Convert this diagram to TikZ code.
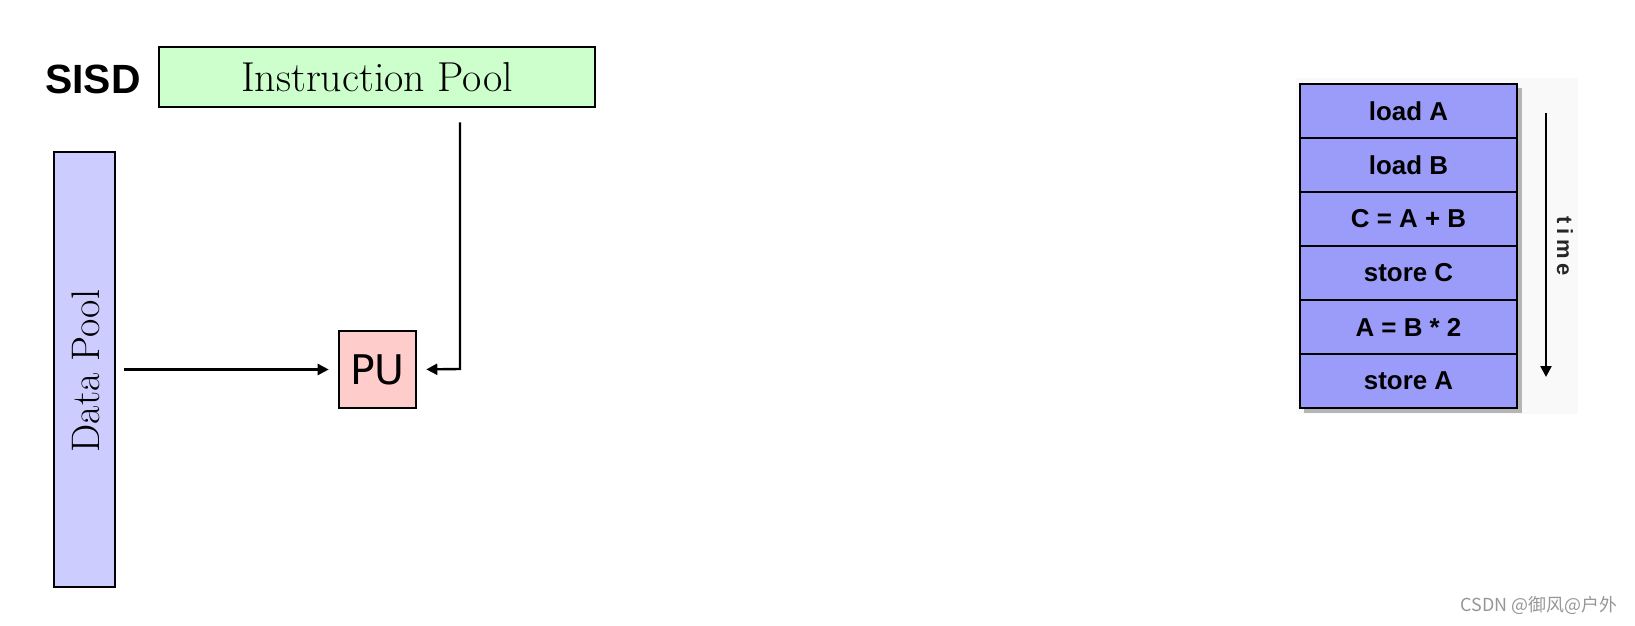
\documentclass[tikz,border=0pt]{standalone}
\usepackage{fontspec}
\usetikzlibrary{arrows.meta,shadows}
\newfontfamily\arialfont{Liberation Sans}
\newfontfamily\dejavufont{DejaVu Sans}
\newfontfamily\cjkfont{Noto Sans CJK SC}
\definecolor{ipgreen}{RGB}{204,255,204}
\definecolor{dpblue}{RGB}{204,204,255}
\definecolor{pupink}{RGB}{255,204,204}
\definecolor{stackblue}{RGB}{155,155,250}
\definecolor{wmgray}{RGB}{150,150,150}
\definecolor{bgfaint}{RGB}{249,249,249}
\tikzset{
  poolbox/.style={draw=black, line width=2.6bp, inner sep=0pt},
  arr/.style={line width=2.4bp, -{Triangle[length=11bp,width=11bp]}},
  stackrow/.style={draw=black, line width=2.8bp, fill=stackblue, minimum width=217bp, minimum height=54bp, inner sep=0pt,
    font=\arialfont\bfseries\fontsize{26}{28}\selectfont},
}
\begin{document}
\begin{tikzpicture}[x=1bp,y=-1bp]
\useasboundingbox (0,0) rectangle (1635,626);
% title
\node (sisd) at (93,79) {\arialfont\bfseries\fontsize{41}{44}\selectfont SISD};
% instruction pool
\node[poolbox, fill=ipgreen, minimum width=436bp, minimum height=60bp] (ip) at (377,77)
  {\fontsize{42}{44}\selectfont Instruction Pool};
% data pool
\node[poolbox, fill=dpblue, minimum width=61bp, minimum height=435bp] (dp) at (84.5,369.5) {};
\node[rotate=90] (dptext) at (86,371) {\fontsize{40}{42}\selectfont Data Pool};
% PU
\node[poolbox, fill=pupink, minimum width=77bp, minimum height=77bp] (pu) at (377.5,369.5)
  {\dejavufont\fontsize{41}{44}\selectfont PU};
% connectors
\coordinate (bend) at (460,369);
\draw[arr, shorten <=8bp, shorten >=9bp] (dp.east |- pu.west) -- (pu.west);
\draw[arr, shorten <=14bp, shorten >=9bp] (ip.south -| bend) -- (bend) -- (pu.east);
% instruction stack
\fill[bgfaint] (1296,78) rectangle (1578,414);
\fill[black!55, opacity=0.5] (1304,88) rectangle (1522,413);
\node[stackrow] (r1) at (1408.5,111) {load A};
\node[stackrow] (r2) at (1408.5,165) {load B};
\node[stackrow] (r3) at (1408.5,219) {C = A + B};
\node[stackrow] (r4) at (1408.5,273) {store C};
\node[stackrow] (r5) at (1408.5,327) {A = B * 2};
\node[stackrow] (r6) at (1408.5,381) {store A};
% time arrow
\coordinate (ta) at (1546,113);
\coordinate (tb) at (1546,377);
\draw[arr] (ta) -- (tb);
\node[rotate=-90, text=black!85] (time) at (1565,246)
  {\arialfont\bfseries\fontsize{22}{24}\selectfont t\kern4.5bp i\kern4.5bp m\kern4.5bp e};
% watermark
\node[text=wmgray] (wm) at (1539,605) {\cjkfont\fontsize{18}{20}\selectfont CSDN @御风@户外};
\end{tikzpicture}
\end{document}
